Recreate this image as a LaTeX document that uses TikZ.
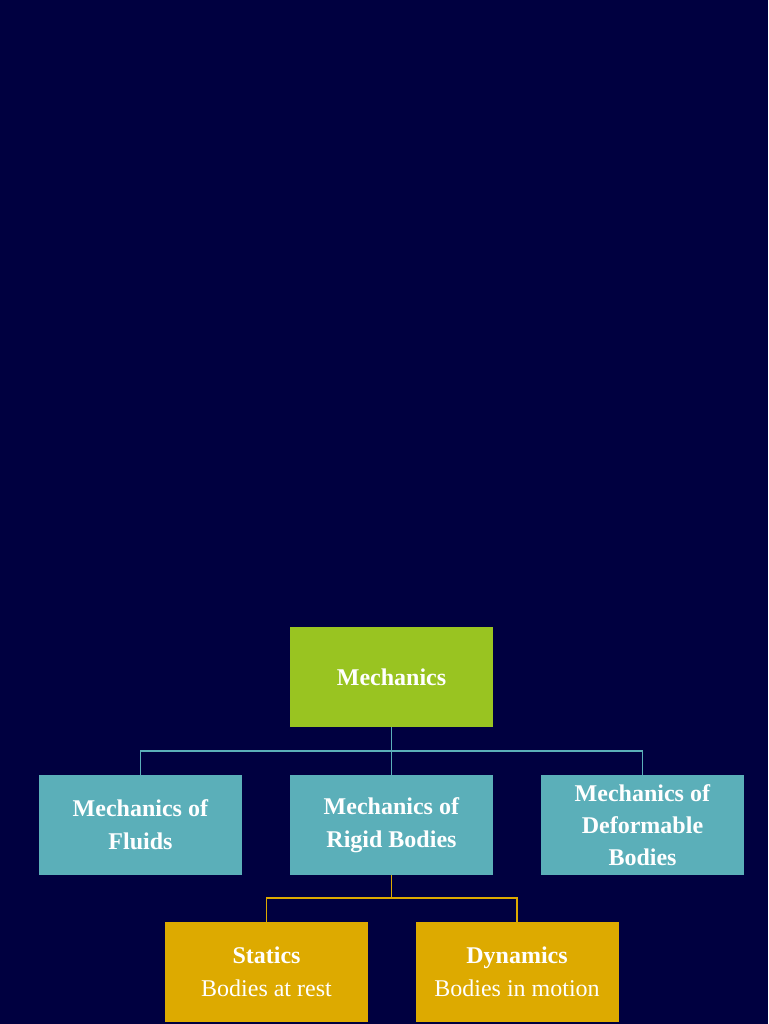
\documentclass[tikz,border=0pt]{standalone}
\usepackage{fontspec}
\setmainfont{Liberation Serif}
\definecolor{bg}{HTML}{000040}
\definecolor{grn}{HTML}{99C421}
\definecolor{tea}{HTML}{5BAFB9}
\definecolor{gld}{HTML}{DDAA00}
\begin{document}
\begin{tikzpicture}[x=1pt,y=-1pt,
  box/.style={minimum width=203pt,minimum height=100pt,inner sep=2pt,text=white,align=center,font=\fontsize{24}{33}\selectfont},
  tline/.style={draw=tea,line width=1.2pt},
  gline/.style={draw=gld,line width=1.2pt}]
\fill[bg] (0,0) rectangle (768,1024);
\useasboundingbox (0,0) rectangle (768,1024);
\node[box,fill=grn] (mech) at (391.5,677) {\textbf{Mechanics}};
\node[box,fill=tea] (flu) at (140.5,825) {\textbf{Mechanics of}\\\textbf{Fluids}};
\node[box,fill=tea] (rig) at (391.5,825) {\textbf{Mechanics of}\\\textbf{Rigid Bodies}};
\node[box,fill=tea,font=\fontsize{24}{32}\selectfont] (def) at (642.5,825) {\textbf{Mechanics of}\\\textbf{Deformable}\\\textbf{Bodies}};
\node[box,fill=gld] (sta) at (266.5,972) {\textbf{Statics}\\Bodies at rest};
\node[box,fill=gld] (dyn) at (517,972) {\textbf{Dynamics}\\Bodies in motion};
\coordinate (j1) at (391.5,751);
\coordinate (j2) at (391.5,898);
\draw[tline] (mech.south) -- (j1);
\draw[tline] (j1) -| (flu.north);
\draw[tline] (j1) -| (def.north);
\draw[tline] (j1) -- (rig.north);
\draw[gline] (rig.south) -- (j2);
\draw[gline] (j2) -| (sta.north);
\draw[gline] (j2) -| (dyn.north);
\end{tikzpicture}
\end{document}
